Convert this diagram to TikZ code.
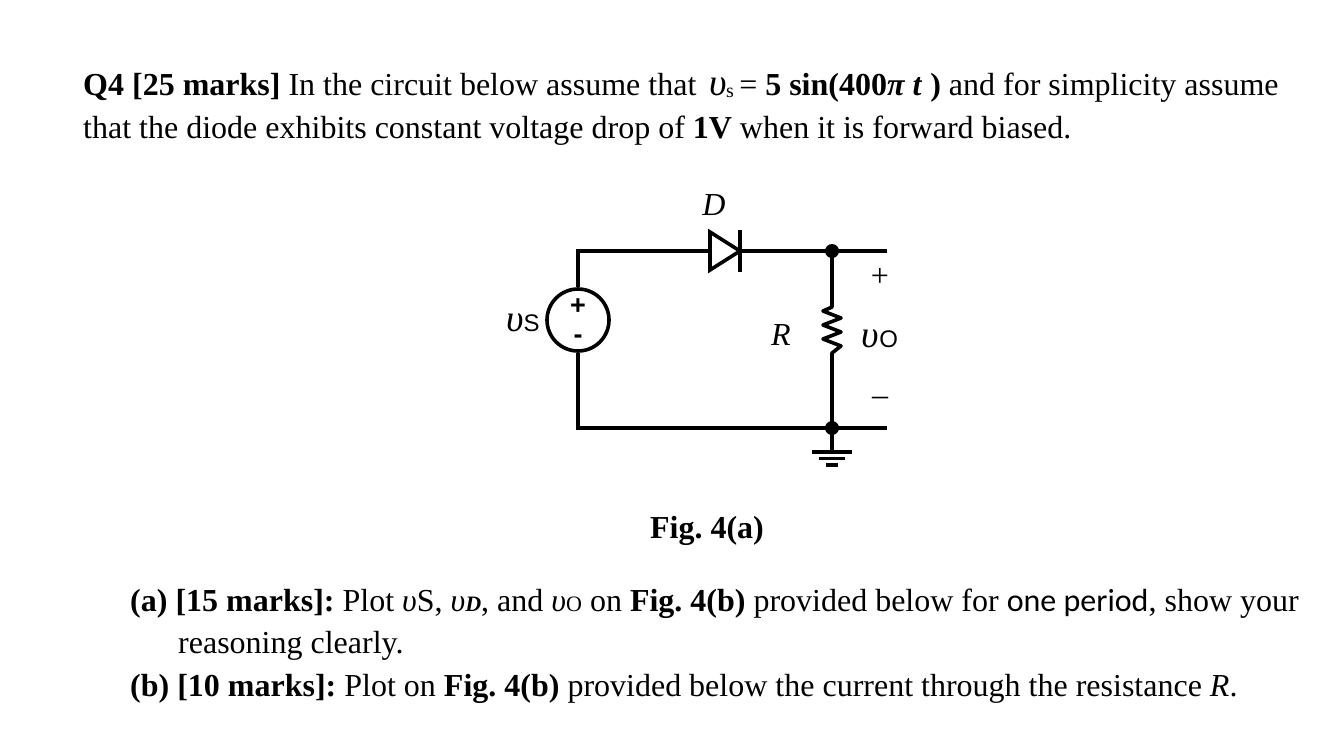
\documentclass[tikz,border=0pt]{standalone}
\usepackage{fontspec}
\setmainfont{Liberation Serif}
\newfontfamily\calib{Carlito}
\newfontfamily\lsans{Liberation Sans}
\newcommand{\ups}{\textit{υ}}
\newcommand{\bigups}{{\fontsize{38}{40}\selectfont\textit{υ}}}
\begin{document}
\frenchspacing
\begin{tikzpicture}[x=1pt,y=-1pt,
  wire/.style={line width=3.6pt},
  txt/.style={anchor=base west,inner sep=0pt,font=\fontsize{32}{38}\selectfont},
  lbl/.style={inner sep=0pt,font=\fontsize{32}{38}\selectfont}]
\useasboundingbox (0,0) rectangle (1342,732);
% text
\node[txt] (l1) at (83,95) {\textbf{Q4 [25 marks]} In the circuit below assume that \,\bigups\kern-1pt\raisebox{-2pt}{\fontsize{20}{22}\selectfont s}\,= \textbf{5 sin(400\textit{π t} )} and for simplicity assume};
\node[txt] (l2) at (83,138) {that the diode exhibits constant voltage drop of \textbf{1V} when it is forward biased.};
\node[lbl,anchor=base] (fig) at (707,538) {\textbf{Fig. 4(a)}};
\node[txt] (a1) at (130,611) {\textbf{(a) [15 marks]:} Plot \ups{}S, \ups{}\textit{\fontsize{22}{24}\selectfont\textbf{D}}, and \ups{}{\fontsize{22}{24}\selectfont O} on \textbf{Fig. 4(b)} provided below for {\calib one period}, show your};
\node[txt] (a2) at (178,653) {reasoning clearly.};
\node[txt] (b1) at (130,696) {\textbf{(b) [10 marks]:} Plot on \textbf{Fig. 4(b)} provided below the current through the resistance \textit{R}.};
% circuit
\coordinate (tl) at (578,251);
\coordinate (bl) at (578,428);
\coordinate (tr) at (832,251);
\coordinate (br) at (832,428);
\coordinate (to) at (887,251);
\coordinate (bo) at (887,428);
\node[draw,circle,line width=3.6pt,minimum size=62pt,inner sep=0pt] (src) at (578,320) {};
\node[inner sep=0pt,font=\lsans\bfseries\fontsize{27}{27}\selectfont] (pl) at (578,307) {+};
\node[inner sep=0pt,font=\lsans\bfseries\fontsize{27}{27}\selectfont] (mi) at (578,339) {-};
\draw[wire] (src.north) -- (tl) -- (710,251);
\draw[wire] (src.south) -- (bl) -- (br) -- (bo);
% diode
\coordinate (dk) at (740,251);
\draw[wire,line join=miter] (710,232) -- (740,251) -- (710,270) -- cycle;
\draw[wire] (740,230) -- (740,272);
\draw[wire] (dk) -- (tr) -- (to);
% resistor
\draw[wire,line join=round] (tr) -- (832,307) -- (823,311) -- (841,318) -- (823,325) -- (841,332) -- (823,339) -- (841,346) -- (832,353) -- (832,357) -- (br);
\fill (tr) circle (7pt);
\fill (br) circle (7pt);
% ground
\draw[wire] (br) -- (832,452);
\draw[wire] (812,452) -- (852,452);
\draw[wire] (819,458.5) -- (845,458.5);
\draw[wire] (826,465) -- (838,465);
% labels
\node[lbl] (Dl) at (714,205) {\textit{D}};
\node[lbl] (Rl) at (781,335) {\textit{R}};
\node[lbl] (vsl) at (523,323) {\bigups{\lsans\fontsize{24}{24}\selectfont S}};
\node[lbl] (vol) at (880,339) {\bigups{\lsans\fontsize{24}{24}\selectfont O}};
\node[lbl] (plus) at (880,277) {+};
\node[lbl] (minus) at (880,401) {\textendash};
\end{tikzpicture}
\end{document}
